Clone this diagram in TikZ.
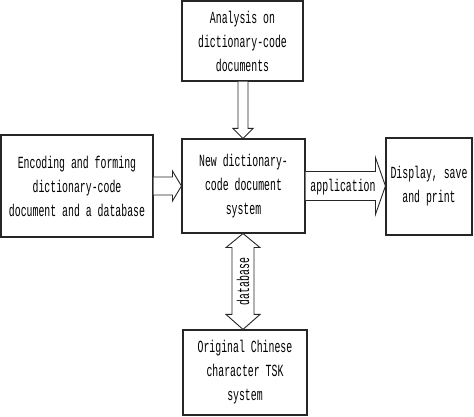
\documentclass[tikz,border=0pt]{standalone}
\usepackage{fontspec}
\usetikzlibrary{calc}
\newfontfamily\cfont[FakeStretch=0.58]{Liberation Mono}
\begin{document}
\begin{tikzpicture}[x=1pt,y=1pt,
  box/.style={draw=black!85,line width=1.1pt,inner sep=0pt,align=center,
    font=\cfont\fontsize{17}{24}\selectfont},
  arrowshape/.style={draw=black!85,line width=0.9pt,fill=white,line join=miter},
  lbl/.style={inner sep=0pt,font=\cfont\fontsize{17}{24}\selectfont}]
\useasboundingbox (0,0) rectangle (474,417);
\node[box,minimum width=121,minimum height=80] (top) at (242.5,376) {Analysis on\\dictionary-code\\documents};
\node[box,minimum width=152,minimum height=102] (lft) at (77,231) {Encoding and forming\\dictionary-code\\document and a database};
\node[box,minimum width=123,minimum height=94] (ctr) at (243.5,231) {New dictionary-\\code document\\system};
\node[box,minimum width=86,minimum height=97] (rgt) at (429,230.5) {Display, save\\and print};
\node[box,minimum width=124,minimum height=85] (bot) at (245,44.5) {Original Chinese\\character TSK\\system};
% top -> center
\coordinate (t1) at (top.south -| 243,0);
\coordinate (t2) at (ctr.north -| 243,0);
\draw[arrowshape] ($(t1)+(-5,0)$) -- ($(t2)+(-5,10)$) -- ($(t2)+(-10,10)$) -- (t2)
  -- ($(t2)+(10,10)$) -- ($(t2)+(5,10)$) -- ($(t1)+(5,0)$);
% left -> center
\coordinate (l1) at (lft.east);
\coordinate (l2) at (ctr.west);
\draw[arrowshape] ($(l1)+(0,9)$) -- ($(l2)+(-9,9)$) -- ($(l2)+(-9,15)$) -- (l2)
  -- ($(l2)+(-9,-15)$) -- ($(l2)+(-9,-9)$) -- ($(l1)+(0,-9)$);
% center -> right
\coordinate (r1) at (ctr.east);
\coordinate (r2) at (rgt.west |- ctr.east);
\draw[arrowshape] ($(r1)+(0,14.5)$) -- ($(r2)+(-10,14.5)$) -- ($(r2)+(-10,28.5)$) -- (r2)
  -- ($(r2)+(-10,-28.5)$) -- ($(r2)+(-10,-14.5)$) -- ($(r1)+(0,-14.5)$);
\node[lbl] (app) at (343,230) {application};
% center <-> bottom
\coordinate (d1) at (ctr.south -| 243,0);
\coordinate (d2) at (bot.north -| 243,0);
\draw[arrowshape] (d1) -- ($(d1)+(17,-14)$) -- ($(d1)+(11,-14)$) -- ($(d2)+(11,15)$)
  -- ($(d2)+(17,15)$) -- (d2) -- ($(d2)+(-17,15)$) -- ($(d2)+(-11,15)$)
  -- ($(d1)+(-11,-14)$) -- ($(d1)+(-17,-14)$) -- cycle;
\node[lbl,rotate=90] (db) at ($(d1)!0.5!(d2)$) {database};
\end{tikzpicture}
\end{document}
